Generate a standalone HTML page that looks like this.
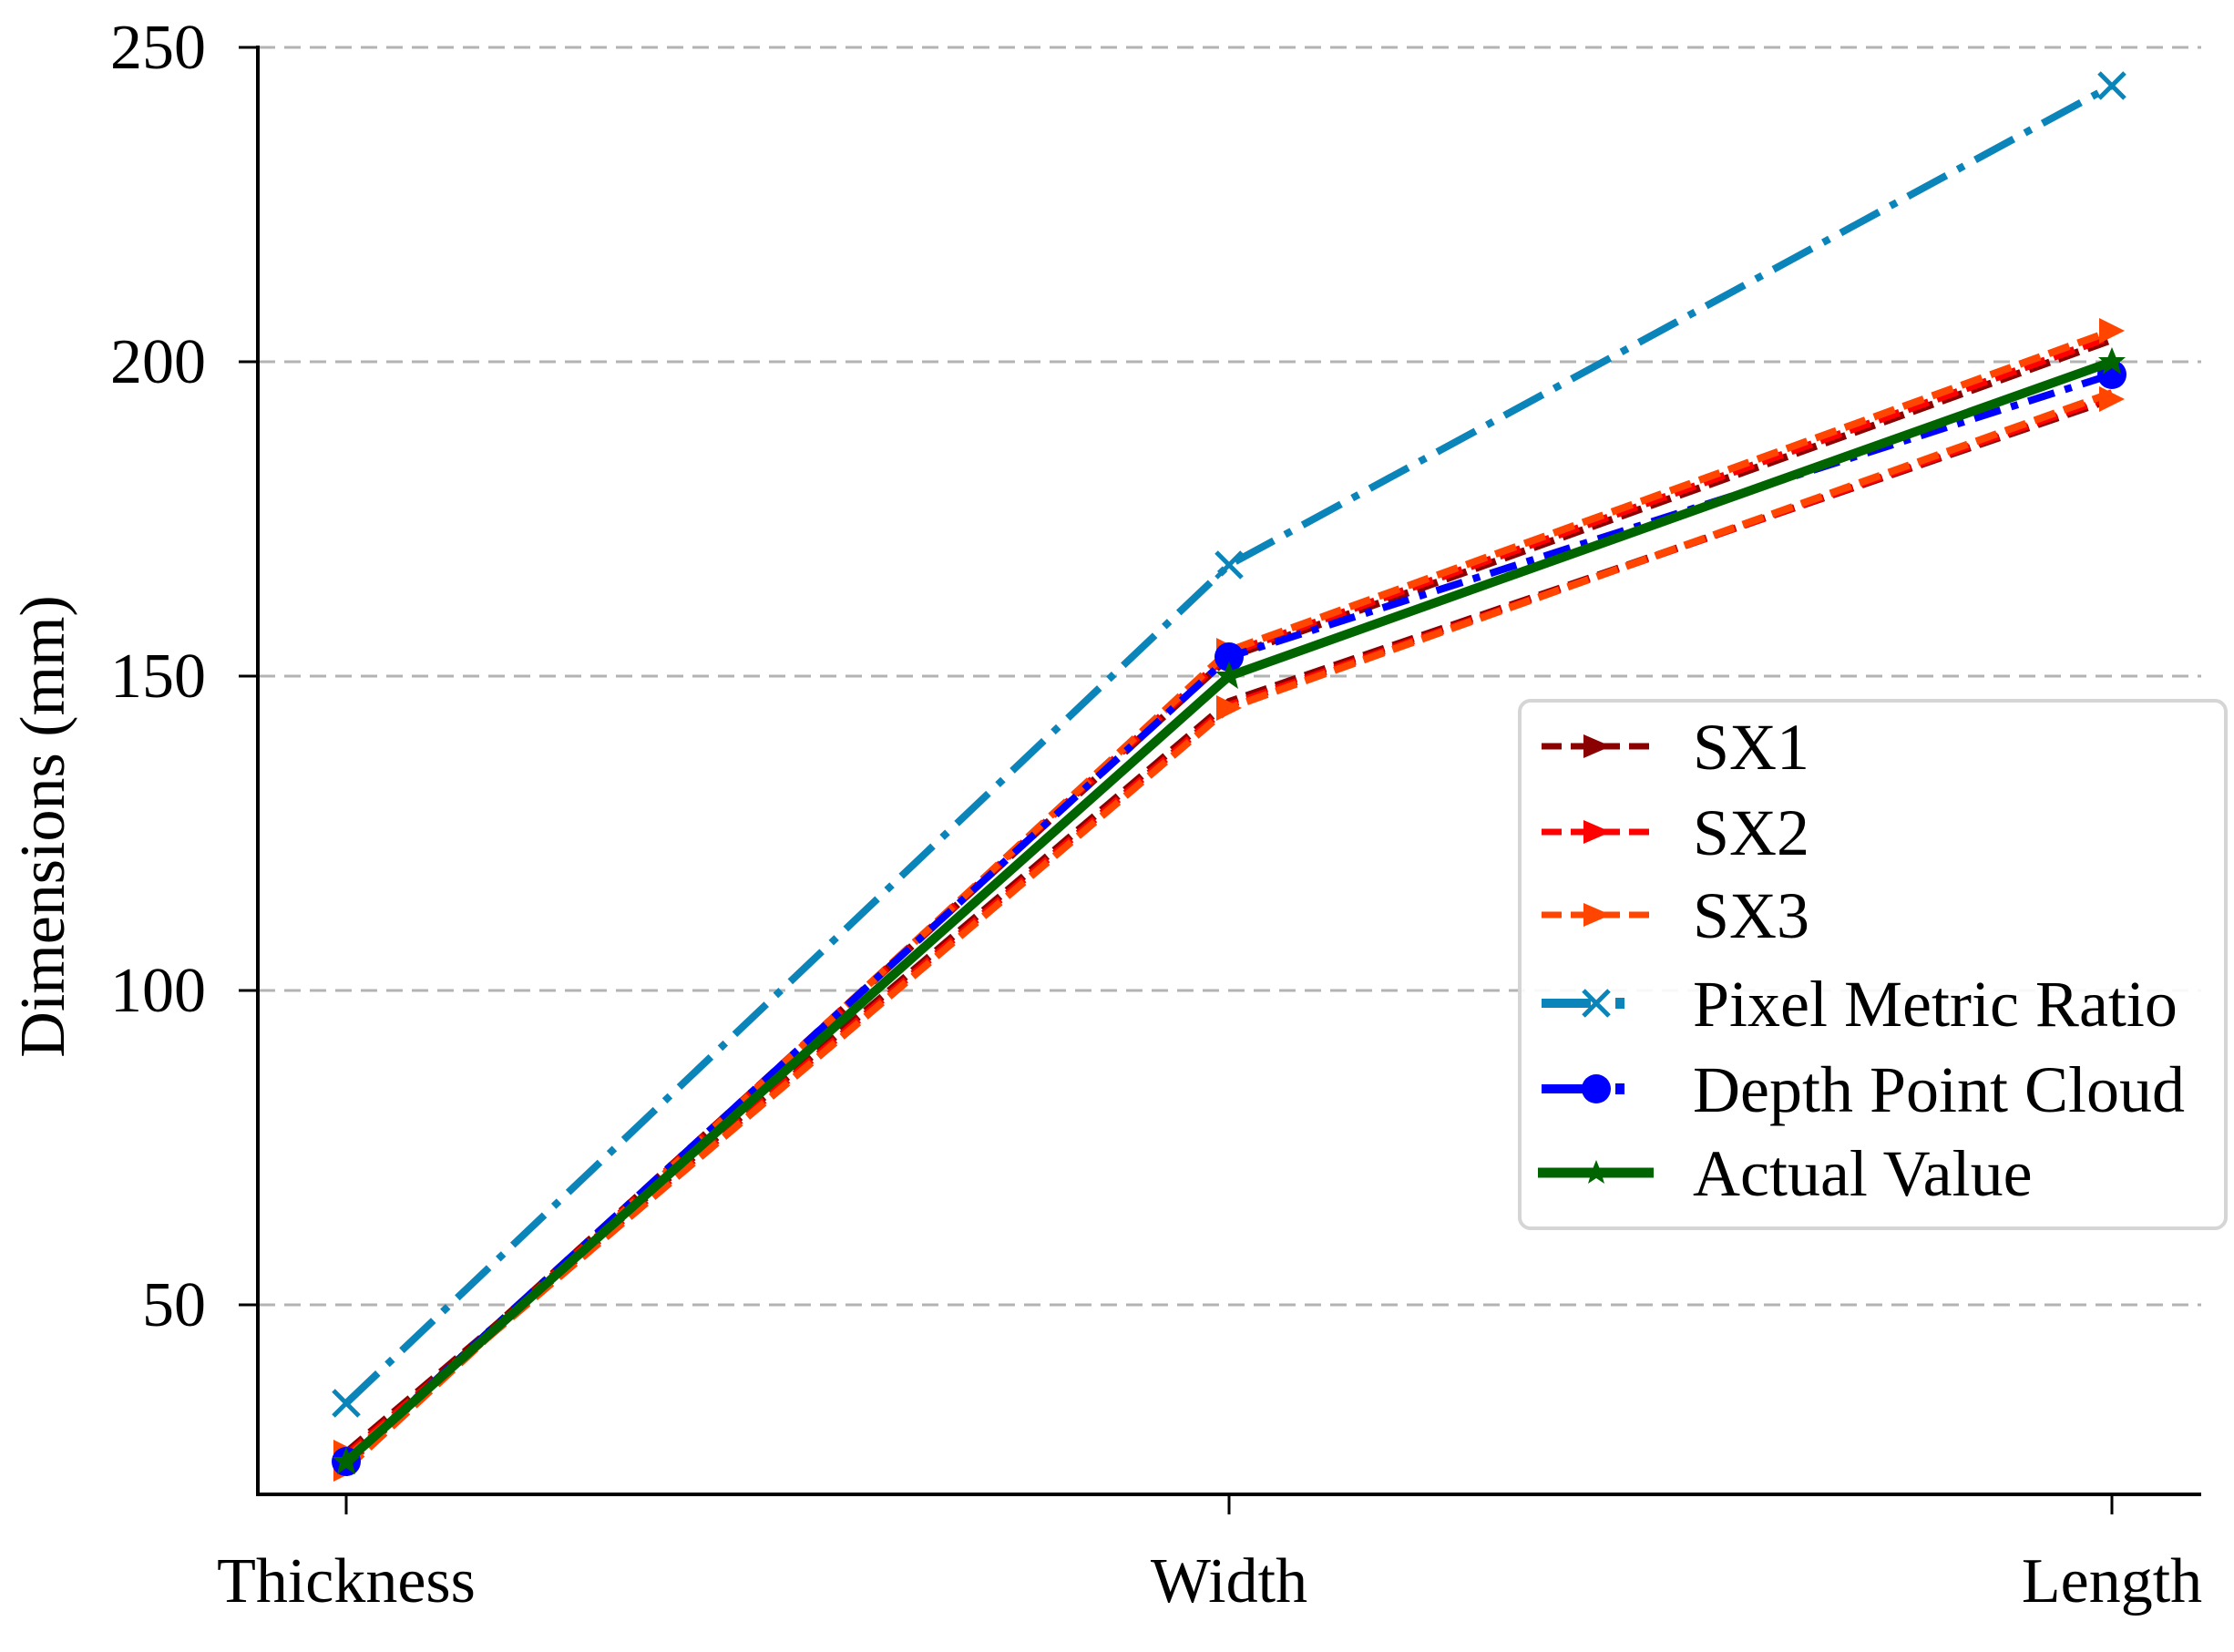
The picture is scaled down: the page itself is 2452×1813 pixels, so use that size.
<!DOCTYPE html>
<html><head><meta charset="utf-8"><style>
html,body{margin:0;padding:0;background:#fff}
svg{display:block}
text{font-family:"Liberation Serif","Times New Roman",serif;fill:#000}
</style></head><body>
<svg width="2452" height="1813" viewBox="0 0 2452 1813" xmlns="http://www.w3.org/2000/svg">
<g stroke="#b3b3b3" stroke-width="3" stroke-dasharray="18,10">
<line x1="284" y1="52" x2="2416" y2="52"/>
<line x1="284" y1="397" x2="2416" y2="397"/>
<line x1="284" y1="742" x2="2416" y2="742"/>
<line x1="284" y1="1087" x2="2416" y2="1087"/>
<line x1="284" y1="1432" x2="2416" y2="1432"/>
</g>
<line x1="283" y1="50" x2="283" y2="1642" stroke="#000" stroke-width="4"/>
<line x1="281" y1="1640" x2="2416" y2="1640" stroke="#000" stroke-width="4"/>
<g stroke="#000" stroke-width="3">
<line x1="262" y1="52" x2="283" y2="52"/><line x1="262" y1="397" x2="283" y2="397"/>
<line x1="262" y1="742" x2="283" y2="742"/><line x1="262" y1="1087" x2="283" y2="1087"/>
<line x1="262" y1="1432" x2="283" y2="1432"/>
<line x1="380" y1="1640" x2="380" y2="1662"/><line x1="1349" y1="1640" x2="1349" y2="1662"/><line x1="2318" y1="1640" x2="2318" y2="1662"/>
</g>
<g font-size="70" text-anchor="end">
<text x="226" y="75">250</text><text x="226" y="420">200</text><text x="226" y="765">150</text>
<text x="226" y="1110">100</text><text x="226" y="1455">50</text>
</g>
<g font-size="70" text-anchor="middle">
<text x="380" y="1758">Thickness</text><text x="1349" y="1758">Width</text><text x="2318" y="1758">Length</text>
</g>
<text font-size="70" text-anchor="middle" transform="translate(70,907) rotate(-90)">Dimensions (mm)</text>

<g fill="none" stroke-width="8" stroke-dasharray="24,10">
<polyline stroke="#8b0000" points="380,1594 1349,770 2318,438"/>
<polyline stroke="#ff0000" points="380,1597 1349,774 2318,435"/>
<polyline stroke="#ff4500" points="380,1600 1349,777 2318,431"/>
<polyline stroke="#8b0000" points="380,1604 1349,721 2318,373"/>
<polyline stroke="#ff0000" points="380,1608 1349,717 2318,369"/>
<polyline stroke="#ff4500" points="380,1612 1349,714 2318,363"/>
</g>
<g>
<path d="M366,1598 l28,14 l-28,14z" fill="#ff4500"/>
<path d="M366,1580 l28,14 l-28,14z" fill="#ff4500"/>
<path d="M1335,700 l28,14 l-28,14z" fill="#ff4500"/>
<path d="M1335,763 l28,14 l-28,14z" fill="#ff4500"/>
<path d="M2304,349 l28,14 l-28,14z" fill="#ff4500"/>
<path d="M2304,424 l28,14 l-28,14z" fill="#ff4500"/>
</g>
<polyline fill="none" stroke="#0b85b9" stroke-width="8" stroke-dasharray="48,14,8,14" points="380,1540 1349,620 2318,94"/>
<g stroke="#0b85b9" stroke-width="5">
<path d="M366,1526 l28,28 M394,1526 l-28,28"/>
<path d="M1335,606 l28,28 M1363,606 l-28,28"/>
<path d="M2304,80 l28,28 M2332,80 l-28,28"/>
</g>
<polyline fill="none" stroke="#0000ff" stroke-width="8" stroke-dasharray="30,12,8,12" points="380,1604 1349,721 2318,411"/>
<g fill="#0000ff"><circle cx="380" cy="1604" r="16"/><circle cx="1349" cy="721" r="16"/><circle cx="2318" cy="411" r="16"/></g>
<polyline fill="none" stroke="#006400" stroke-width="10" points="380,1604 1349,742 2318,397"/>
<g fill="#006400">
<path d="M0,-16 L4.5,-5 L15,-5 L7,2 L10,14 L0,7 L-10,14 L-7,2 L-15,-5 L-4.5,-5Z" transform="translate(380,1604)"/>
<path d="M0,-16 L4.5,-5 L15,-5 L7,2 L10,14 L0,7 L-10,14 L-7,2 L-15,-5 L-4.5,-5Z" transform="translate(1349,742)"/>
<path d="M0,-16 L4.5,-5 L15,-5 L7,2 L10,14 L0,7 L-10,14 L-7,2 L-15,-5 L-4.5,-5Z" transform="translate(2318,397)"/>
</g>

<rect x="1668" y="769" width="775" height="579" rx="12" fill="#fff" fill-opacity="0.9" stroke="#d5d5d5" stroke-width="4"/>
<g stroke-width="7">
<line x1="1692" y1="819" x2="1811" y2="819" stroke="#8b0000" stroke-dasharray="22,10"/>
<line x1="1692" y1="913" x2="1811" y2="913" stroke="#ff0000" stroke-dasharray="22,10"/>
<line x1="1692" y1="1004" x2="1811" y2="1004" stroke="#ff4500" stroke-dasharray="22,10"/>
</g>
<path d="M1738,806 l30,13 l-30,13z" fill="#8b0000"/>
<path d="M1738,900 l30,13 l-30,13z" fill="#ff0000"/>
<path d="M1738,991 l30,13 l-30,13z" fill="#ff4500"/>
<line x1="1692" y1="1101" x2="1746" y2="1101" stroke="#0b85b9" stroke-width="10"/>
<rect x="1773" y="1095" width="10" height="12" fill="#0b85b9"/>
<path d="M1738,1087 l28,28 M1766,1087 l-28,28" stroke="#0b85b9" stroke-width="5"/>
<line x1="1692" y1="1195" x2="1746" y2="1195" stroke="#0000ff" stroke-width="10"/>
<rect x="1773" y="1189" width="10" height="12" fill="#0000ff"/>
<circle cx="1752" cy="1195" r="16" fill="#0000ff"/>
<line x1="1688" y1="1287" x2="1815" y2="1287" stroke="#006400" stroke-width="11"/>
<path d="M0,-14 L4,-4 L13,-4 L6,2 L9,12 L0,6 L-9,12 L-6,2 L-13,-4 L-4,-4Z" transform="translate(1752,1287)" fill="#006400"/>
<g font-size="72">
<text x="1858" y="844">SX1</text>
<text x="1858" y="938">SX2</text>
<text x="1858" y="1029">SX3</text>
<text x="1858" y="1126">Pixel Metric Ratio</text>
<text x="1858" y="1220">Depth Point Cloud</text>
<text x="1858" y="1312">Actual Value</text>
</g>
</svg>
</body></html>
